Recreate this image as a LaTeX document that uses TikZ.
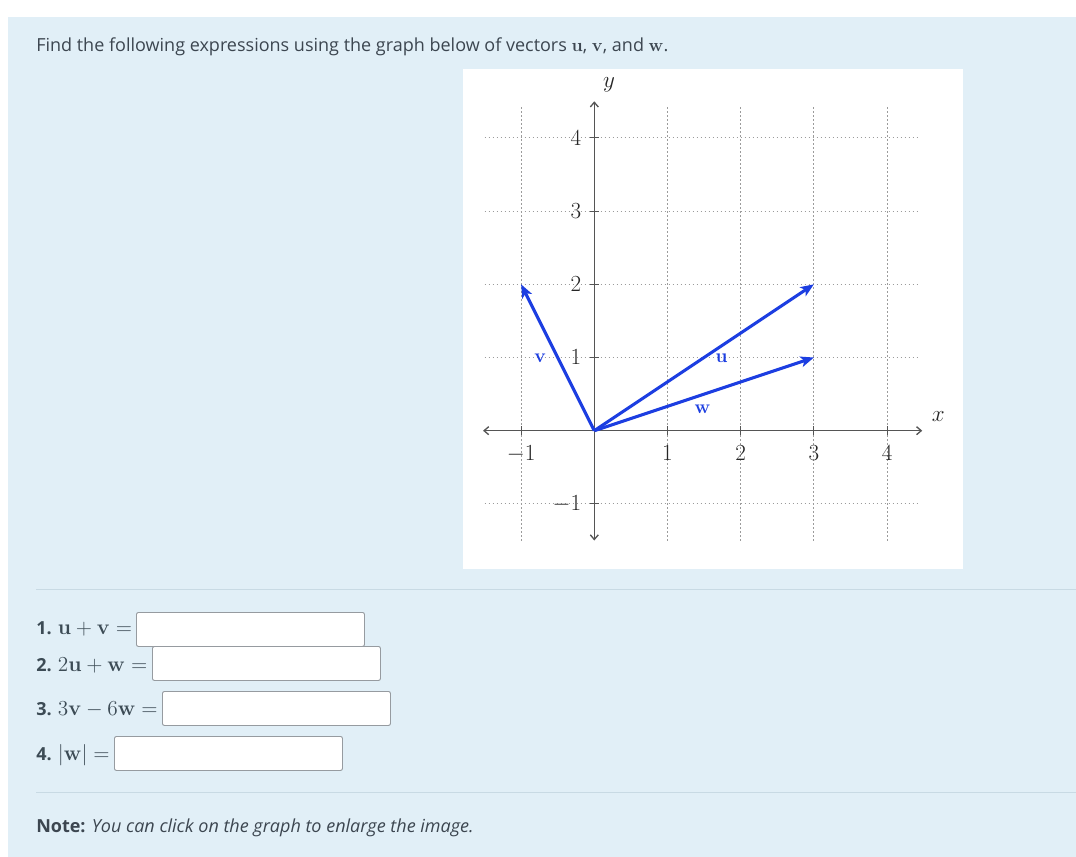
\RequirePackage{fix-cm}
\documentclass[tikz,border=0pt]{standalone}
\usepackage[no-math]{fontspec}
\setmainfont{Open Sans}
\usetikzlibrary{arrows.meta}
\definecolor{panelblue}{RGB}{225,239,247}
\definecolor{txt}{RGB}{60,70,80}
\definecolor{mtxt}{RGB}{60,75,85}
\definecolor{vecblue}{RGB}{28,62,225}
\definecolor{sepline}{RGB}{200,218,228}
\definecolor{boxline}{RGB}{150,155,160}
\definecolor{gridc}{RGB}{155,155,155}
\definecolor{axisc}{RGB}{85,85,85}
\begin{document}
\begin{tikzpicture}[x=0.75pt,y=-0.75pt,
  titletext/.style={anchor=west,inner sep=0pt,text=txt,font=\fontsize{13.5}{16}\selectfont},
  itemlabel/.style={anchor=west,inner sep=0pt,text=mtxt,font=\fontsize{13.5}{16}\selectfont},
  ansbox/.style={draw=boxline,fill=white,rounded corners=1.5pt,line width=0.7pt,minimum width=171pt,minimum height=25.5pt,inner sep=0pt,anchor=north west},
  sep/.style={draw=sepline,line width=0.75pt},
  gridline/.style={gridc,line width=0.7pt,dash pattern=on 0.8pt off 2.2pt},
  axisline/.style={axisc,line width=1pt,{Straight Barb[length=3.5pt,width=6pt]}-{Straight Barb[length=3.5pt,width=6pt]}},
  vec/.style={vecblue,line width=2.3pt,-{Stealth[length=10pt,width=8pt,inset=2.5pt]}},
  veclabel/.style={text=vecblue,font=\fontsize{14.4}{16}\selectfont,inner sep=0pt},
  ticklabel/.style={font=\fontsize{17.3}{21}\selectfont,text=black!85}
]
\useasboundingbox (0,0) rectangle (1076,857);
\fill[white] (0,0) rectangle (1076,857);
\fill[panelblue] (8,17) rectangle (1076,857);
\node[titletext] (title) at (36,47) {Find the following expressions using the graph below of vectors $\mathbf{u}$, $\mathbf{v}$, and $\mathbf{w}$.};
% graph panel
\fill[white] (463,69) rectangle (963,569);
\begin{scope}[shift={(594.3,430.7)},x=54.9pt,y=54.9pt]
  \foreach \i in {-1,1,2,3,4} \draw[gridline] (\i,-1.5) -- (\i,4.45);
  \foreach \j in {-1,1,2,3,4} \draw[gridline] (-1.5,\j) -- (4.45,\j);
  \draw[axisline] (-1.52,0) -- (4.48,0);
  \draw[axisline] (0,-1.5) -- (0,4.5);
  \foreach \i in {-1,1,2,3,4} {
    \draw[axisc,line width=0.8pt] (\i,-0.06) -- (\i,0.06);
    \node[ticklabel,below,inner sep=2pt] (xl\i) at (\i,-0.16) {$\i$};
  }
  \foreach \j in {-1,1,2,3,4} {
    \draw[axisc,line width=0.8pt] (-0.06,\j) -- (0.06,\j);
    \node[ticklabel,left,inner sep=2pt] (yl\j) at (-0.14,\j) {$\j$};
  }
  \node[ticklabel] (xlab) at (4.7,0.19) {$x$};
  \node[ticklabel] (ylab) at (0.2,4.72) {$y$};
  \coordinate (O) at (0,0);
  \coordinate (U) at (3,2);
  \coordinate (V) at (-1,2);
  \coordinate (W) at (3,1);
  \draw[vec] (O) -- (U);
  \draw[vec] (O) -- (V);
  \draw[vec] (O) -- (W);
  \node[veclabel] (ul) at (1.74,0.99) {$\mathbf{u}$};
  \node[veclabel] (vl) at (-0.74,0.99) {$\mathbf{v}$};
  \node[veclabel] (wl) at (1.48,0.30) {$\mathbf{w}$};
\end{scope}
% separators
\draw[sep] (36,589) -- (1076,589);
\draw[sep] (36,792) -- (1076,792);
% items
\node[itemlabel] (i1) at (36,629) {\textbf{1.} {\fontsize{16}{19}\selectfont$\mathbf{u}+\mathbf{v}=$}};
\node[ansbox] (b1) at (136,612) {};
\node[itemlabel] (i2) at (36,665) {\textbf{2.} {\fontsize{16}{19}\selectfont$2\mathbf{u}+\mathbf{w}=$}};
\node[ansbox] (b2) at (152,646) {};
\node[itemlabel] (i3) at (36,710) {\textbf{3.} {\fontsize{16}{19}\selectfont$3\mathbf{v}-6\mathbf{w}=$}};
\node[ansbox] (b3) at (162,691) {};
\node[itemlabel] (i4) at (36,755) {\textbf{4.} {\fontsize{16}{19}\selectfont$|\mathbf{w}|=$}};
\node[ansbox] (b4) at (114,736) {};
% note
\node[titletext] (note) at (36,828) {\textbf{Note:} \textit{You can click on the graph to enlarge the image.}};
\end{tikzpicture}
\end{document}
